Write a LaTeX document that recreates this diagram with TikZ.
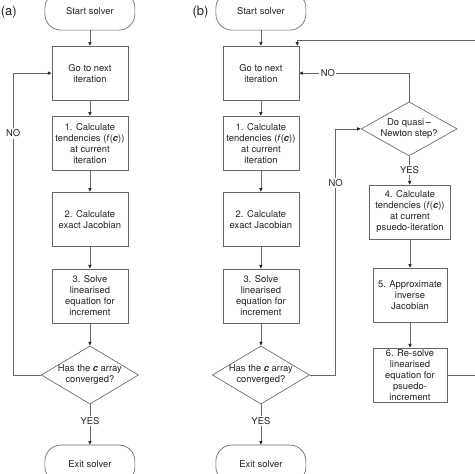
\documentclass[tikz,border=0pt]{standalone}
\usepackage{fontspec}
\setmainfont{TeX Gyre Heros}
\usetikzlibrary{arrows.meta,calc,positioning,shapes.geometric}
\definecolor{flowgray}{HTML}{666666}
\definecolor{flowtext}{HTML}{222222}

\begin{document}
\begin{tikzpicture}[
  font=\fontsize{9.4}{11}\selectfont,
  box/.style={draw=flowgray, line width=0.65pt, fill=white, minimum width=76pt,
              minimum height=54pt, align=center, text=flowtext, inner sep=1pt},
  term/.style={box, rounded corners=16pt, minimum width=90pt, minimum height=38pt},
  decision/.style={diamond, draw=flowgray, line width=0.65pt, fill=white, aspect=1.67,
                   align=center, inner sep=0pt, minimum width=97pt,
                   minimum height=58pt, text=flowtext},
  arrow/.style={-{Triangle[length=1.3mm,width=1.1mm,color=flowtext]},
                line width=0.65pt, draw=flowgray},
  tag/.style={fill=white, inner sep=1.5pt, text=flowtext},
  panel/.style={font=\fontsize{13}{15}\selectfont, text=flowtext, inner sep=0pt},
]
  \useasboundingbox (0,0) rectangle (16.66,-16.66);

  % (a) Newton iteration with the exact Jacobian.
  \node[panel, anchor=west] (label-a) at (0.02,-0.42) {(a)};
  \node[term] (start-a) at (3.16,-0.39) {Start solver};
  \node[box] (next-a) at (3.16,-2.57) {Go to next\\iteration};
  \node[box] (tend-a) at (3.16,-5.03)
    {1. Calculate\\tendencies (\textit{f}(\textbf{\textit{c}}))\\at current\\iteration};
  \node[box] (jac-a) at (3.16,-7.70) {2. Calculate\\exact Jacobian};
  \node[box] (solve-a) at (3.16,-10.40) {3. Solve\\linearised\\equation for\\increment};
  \node[decision] (conv-a) at (3.16,-13.18) {Has the \textbf{\textit{c}} array\\converged?};
  \node[term] (exit-a) at (3.16,-16.31) {Exit solver};
  \draw[arrow] (start-a) -- (next-a);
  \draw[arrow] (next-a) -- (tend-a);
  \draw[arrow] (tend-a) -- (jac-a);
  \draw[arrow] (jac-a) -- (solve-a);
  \draw[arrow] (solve-a) -- (conv-a);
  \draw[arrow] (conv-a) -- node[tag, pos=0.42] {YES} (exit-a);
  \draw[arrow] (conv-a.west) -- ++(-0.98,0) |- node[tag, pos=0.4] {NO} (next-a.west);

  % (b) Same loop, with quasi-Newton pseudo-iterations on the right.
  \node[panel, anchor=west] (label-b) at (6.76,-0.42) {(b)};
  \node[term] (start-b) at (9.17,-0.39) {Start solver};
  \node[box] (next-b) at (9.17,-2.57) {Go to next\\iteration};
  \node[box] (tend-b) at (9.17,-5.03)
    {1. Calculate\\tendencies (\textit{f}(\textbf{\textit{c}}))\\at current\\iteration};
  \node[box] (jac-b) at (9.17,-7.70) {2. Calculate\\exact Jacobian};
  \node[box] (solve-b) at (9.17,-10.40) {3. Solve\\linearised\\equation for\\increment};
  \node[decision] (conv-b) at (9.17,-13.18) {Has the \textbf{\textit{c}} array\\converged?};
  \node[term] (exit-b) at (9.17,-16.31) {Exit solver};
  \draw[arrow] (start-b) -- (next-b);
  \draw[arrow] (next-b) -- (tend-b);
  \draw[arrow] (tend-b) -- (jac-b);
  \draw[arrow] (jac-b) -- (solve-b);
  \draw[arrow] (solve-b) -- (conv-b);
  \draw[arrow] (conv-b) -- node[tag, pos=0.42] {YES} (exit-b);

  \node[decision, minimum width=96pt, minimum height=54pt] (quasi) at (14.38,-4.53)
    {Do quasi\,–\\Newton step?};
  \node[box, minimum width=81pt] (tend-q) at (14.41,-7.45)
    {4. Calculate\\tendencies (\textit{f}(\textbf{\textit{c}}))\\at current\\psuedo-iteration};
  \node[box, minimum width=74pt] (approx) at (14.41,-10.37)
    {5. Approximate\\inverse\\Jacobian};
  \node[box, minimum width=74pt, inner sep=0pt] (resolve) at (14.41,-13.18)
    {6. Re-solve\\linearised\\equation for\\psuedo-\\increment};
  \draw[arrow] (quasi) -- node[tag] {YES} (tend-q);
  \draw[arrow] (tend-q) -- (approx);
  \draw[arrow] (approx) -- (resolve);
  \draw[arrow] (conv-b.east) -- ++(0.91,0) |- node[tag, pos=0.39] {NO} (quasi.west);
  \draw[arrow] (quasi.north) |- node[tag, pos=0.87] {NO} (next-b.east);
  \coordinate (back) at (16.85,-1.41);
  \draw[arrow] (resolve.east) -| (back) -| ([xshift=-2pt]next-b.north east);
\end{tikzpicture}
\end{document}
